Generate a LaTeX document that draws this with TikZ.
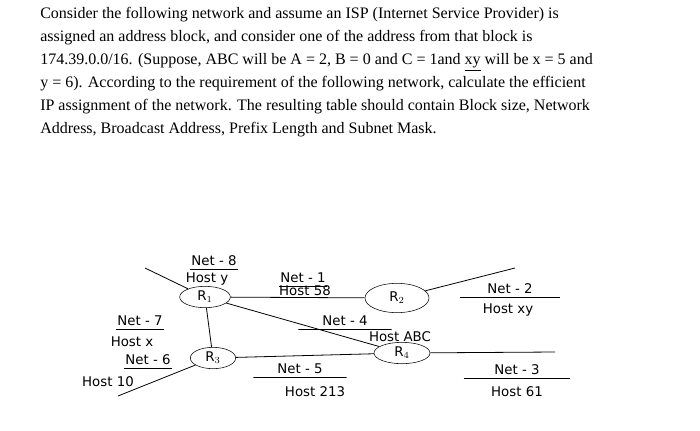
\documentclass[tikz,border=0pt]{standalone}
\usepackage{fontspec}
\usetikzlibrary{shapes.geometric}
\setmainfont{Liberation Serif}
\newfontfamily\hand{DejaVu Sans}
\begin{document}
\begin{tikzpicture}[x=0.75pt,y=-0.75pt,
 rt/.style={draw,ellipse,inner sep=1pt,minimum height=16pt,font=\hand\normalsize},
 lbl/.style={font=\hand\normalsize,inner sep=1pt},
 ul/.style={font=\hand\normalsize,inner sep=1pt,text depth=2pt,path picture={\draw (path picture bounding box.south west)--(path picture bounding box.south east);}},
 ln/.style={line width=0.6pt}]
\useasboundingbox (0,0) rectangle (700,430);
\node[anchor=north west,align=left,font=\fontsize{12}{17.3}\selectfont,inner sep=0] (q) at (40,7)
{Consider the following network and assume an ISP (Internet Service Provider) is\\ assigned an address block, and consider one of the address from that block is\\ 174.39.0.0/16. (Suppose, ABC will be A = 2, B = 0 and C = 1and \underline{xy} will be x = 5 and\\ y = 6). According to the requirement of the following network, calculate the efficient\\ IP assignment of the network. The resulting table should contain Block size, Network\\ Address, Broadcast Address, Prefix Length and Subnet Mask.};
\node[rt,minimum width=38pt] (r1) at (205,297) {R$_1$};
\node[rt,minimum width=48pt,minimum height=22pt] (r2) at (397,298) {R$_2$};
\node[rt,minimum width=34pt] (r3) at (213,358) {R$_3$};
\node[rt,minimum width=42pt] (r4) at (402,353) {R$_4$};
\coordinate (e1) at (145,268);
\coordinate (e2) at (515,268);
\coordinate (e3) at (555,352);
\coordinate (e6) at (118,396);
\draw[ln] (r1)--(r2); \draw[ln] (r1)--(r4); \draw[ln] (r1)--(r3);
\draw[ln] (r3)--(r4); \draw[ln] (r4)--(e3); \draw[ln] (r2)--(e2);
\draw[ln] (r1)--(e1); \draw[ln] (r3)--(e6);
\node[ul] (n8) at (214,262) {Net - 8};
\node[lbl] (h8) at (207,279) {Host y};
\node[ul] (n1) at (303,279) {Net - 1};
\node[lbl] (h1) at (305,291) {Host 58};
\node[ul,minimum width=75pt] (n2) at (510,290) {Net - 2};
\node[lbl] (h2) at (508,310) {Host xy};
\node[ul] (n7) at (140,322) {Net - 7};
\node[lbl] (h7) at (132,342) {Host x};
\node[ul] (n6) at (148,361) {Net - 6};
\node[lbl] (h6) at (108,382) {Host 10};
\node[ul,minimum width=70pt] (n4) at (345,322) {Net - 4};
\node[lbl] (h4) at (400,337) {Host ABC};
\node[ul,minimum width=70pt] (n5) at (300,370) {Net - 5};
\node[lbl] (h5) at (315,392) {Host 213};
\node[ul,minimum width=80pt] (n3) at (517,371) {Net - 3};
\node[lbl] (h3) at (517,392) {Host 61};
\end{tikzpicture}
\end{document}
